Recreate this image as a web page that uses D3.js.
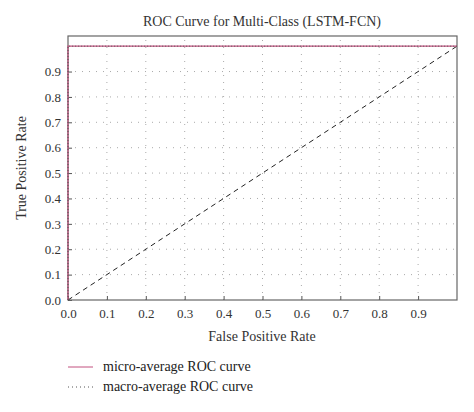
<!DOCTYPE html><html><head><script src="https://cdn.jsdelivr.net/npm/d3@7"></script>
<style>body{margin:0;background:#fff}text{font-family:"Liberation Serif",serif}</style></head><body><svg id="c" width="474" height="412"></svg>
<script>
const xTicks=[0,0.1,0.2,0.3,0.4,0.5,0.6,0.7,0.8,0.9];
const yTicks=[0,0.1,0.2,0.3,0.4,0.5,0.6,0.7,0.8,0.9];
const microFpr=[0,0,1], microTpr=[0,1,1];
const macroFpr=[0,0,1], macroTpr=[0,1,1];
const diag=[0,1];
const svg=d3.select("#c");
const x=d3.scaleLinear().domain([0,1]).range([68,457]);
const y=d3.scaleLinear().domain([0,1.04]).range([300,36]);
const g=svg.append("g");
xTicks.slice(1).forEach(t=>g.append("line").attr("x1",x(t)).attr("x2",x(t)).attr("y1",y(0)).attr("y2",y(1.04)).attr("stroke","#aaa").attr("stroke-dasharray","1,6"));
yTicks.slice(1).forEach(t=>g.append("line").attr("y1",y(t)).attr("y2",y(t)).attr("x1",x(0)).attr("x2",x(1)).attr("stroke","#aaa").attr("stroke-dasharray","1,6"));
svg.append("g").attr("transform","translate(0,300)").call(d3.axisBottom(x).tickValues(xTicks).tickFormat(d3.format(".1f")).tickSize(-4).tickPadding(9)).call(a=>{a.select(".domain").remove();a.selectAll("text").attr("font-size",13).attr("fill","#333");a.selectAll("line").attr("stroke","#555")});
svg.append("g").attr("transform","translate(68,0)").call(d3.axisLeft(y).tickValues(yTicks).tickFormat(d3.format(".1f")).tickSize(-4).tickPadding(7)).call(a=>{a.select(".domain").remove();a.selectAll("text").attr("font-size",13).attr("fill","#333");a.selectAll("line").attr("stroke","#555")});
svg.append("rect").attr("x",68).attr("y",36).attr("width",389).attr("height",264).attr("fill","none").attr("stroke","#666").attr("stroke-width",1.2);
const ln=d3.line().x(d=>x(d[0])).y(d=>y(d[1]));
svg.append("path").attr("d",ln(diag.map(v=>[v,v]))).attr("fill","none").attr("stroke","#222").attr("stroke-dasharray","5,4");
svg.append("path").attr("d",ln(microFpr.map((v,i)=>[v,microTpr[i]]))).attr("fill","none").attr("stroke","#c2507e").attr("stroke-width",1.2);
svg.append("path").attr("d",ln(macroFpr.map((v,i)=>[v,macroTpr[i]]))).attr("fill","none").attr("stroke","#555").attr("stroke-width",1).attr("stroke-dasharray","1,2");
svg.append("text").attr("x",262).attr("y",26).attr("text-anchor","middle").attr("font-size",14).attr("fill","#333").text("ROC Curve for Multi-Class (LSTM-FCN)");
svg.append("text").attr("x",262).attr("y",341).attr("text-anchor","middle").attr("font-size",14).attr("fill","#333").text("False Positive Rate");
svg.append("text").attr("transform","translate(26,168) rotate(-90)").attr("text-anchor","middle").attr("font-size",14).attr("fill","#333").text("True Positive Rate");
const leg=[["micro-average ROC curve","#c2507e",null],["macro-average ROC curve","#555","1,3"]];
leg.forEach((l,i)=>{const yy=367+i*20;svg.append("line").attr("x1",68).attr("x2",93).attr("y1",yy).attr("y2",yy).attr("stroke",l[1]).attr("stroke-dasharray",l[2]);svg.append("text").attr("x",103).attr("y",yy+4).attr("font-size",14).attr("fill","#222").text(l[0]);});
</script></body></html>
